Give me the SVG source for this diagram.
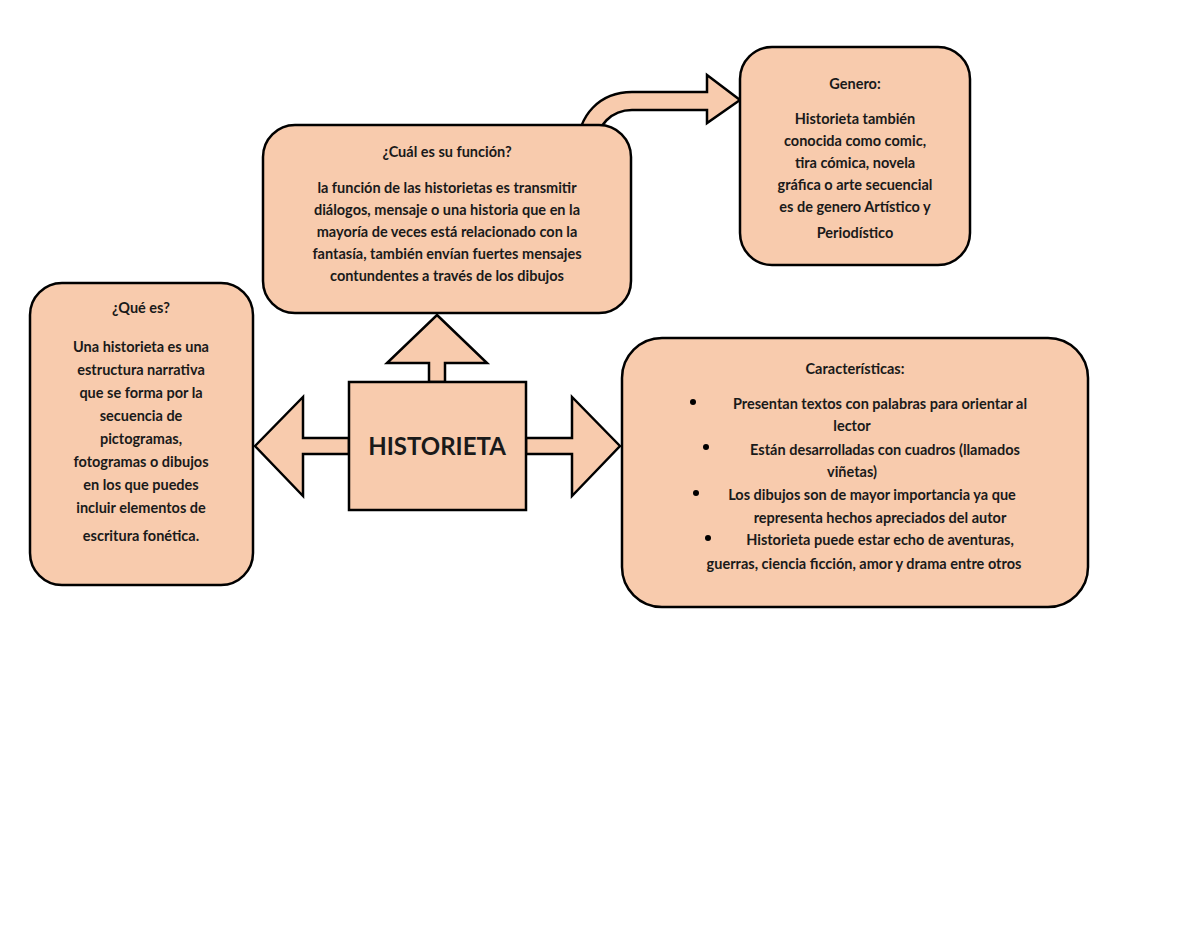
<svg xmlns="http://www.w3.org/2000/svg" width="1200" height="927" viewBox="0 0 1200 927">
<style>
.s{fill:#F8CBAD;stroke:#000;stroke-width:2.5;stroke-linejoin:miter}
text{font-family:Lato,"Open Sans","Liberation Sans",sans-serif;font-weight:bold;font-size:14.5px;fill:#1a1a1a;text-anchor:middle}
.big{font-size:24px}
</style>
<rect width="1200" height="927" fill="#fff"/>
<g id="connectors">
<path class="s" d="M437,315 L487,363 L445,363 L445,382 L429,382 L429,363 L387,363 Z"/>
<path class="s" d="M255,446 L303,397 L303,438 L349,438 L349,454 L303,454 L303,496 Z"/>
<path class="s" d="M620,446 L572,397 L572,438 L526,438 L526,454 L572,454 L572,496 Z"/>
<path class="s" d="M578,147 C578,115 600,92 632,92 L707,92 L707,75 L740,100 L707,123 L707,110 L632,110 C612,110 596,125 596,147 Z"/>
</g>
<g id="historieta">
<rect class="s" x="349" y="382" width="177" height="128"/>
<text class="big" x="437" y="455">HISTORIETA</text>
</g>
<g id="funcion">
<rect class="s" x="263" y="125" width="368" height="188" rx="32"/>
<text x="447" y="157">¿Cuál es su función?</text>
<text x="447" y="193">la función de las historietas es transmitir</text>
<text x="447" y="215">diálogos, mensaje o una historia que en la</text>
<text x="447" y="237">mayoría de veces está relacionado con la</text>
<text x="447" y="259">fantasía, también envían fuertes mensajes</text>
<text x="447" y="281">contundentes a través de los dibujos</text>
</g>
<g id="quees">
<rect class="s" x="30" y="283" width="223" height="302" rx="32"/>
<text x="141" y="313">¿Qué es?</text>
<text x="141" y="352">Una historieta es una</text>
<text x="141" y="375">estructura narrativa</text>
<text x="141" y="398">que se forma por la</text>
<text x="141" y="421">secuencia de</text>
<text x="141" y="444">pictogramas,</text>
<text x="141" y="467">fotogramas o dibujos</text>
<text x="141" y="490">en los que puedes</text>
<text x="141" y="513">incluir elementos de</text>
<text x="141" y="541">escritura fonética.</text>
</g>
<g id="genero">
<rect class="s" x="740" y="47" width="230" height="218" rx="32"/>
<text x="855" y="89">Genero:</text>
<text x="855" y="124">Historieta también</text>
<text x="855" y="146">conocida como comic,</text>
<text x="855" y="168">tira cómica, novela</text>
<text x="855" y="190">gráfica o arte secuencial</text>
<text x="855" y="212">es de genero Artístico y</text>
<text x="855" y="238">Periodístico</text>
</g>
<g id="caracteristicas">
<rect class="s" x="622" y="338" width="466" height="269" rx="40"/>
<text x="855" y="374">Características:</text>
<circle cx="693" cy="402" r="3"/>
<text x="880" y="409">Presentan textos con palabras para orientar al</text>
<text x="852" y="431">lector</text>
<circle cx="706" cy="447" r="3"/>
<text x="885" y="455">Están desarrolladas con cuadros (llamados</text>
<text x="852" y="477">viñetas)</text>
<circle cx="696" cy="493" r="3"/>
<text x="872" y="500">Los dibujos son de mayor importancia ya que</text>
<text x="880" y="523">representa hechos apreciados del autor</text>
<circle cx="708" cy="538" r="3"/>
<text x="880" y="545">Historieta puede estar echo de aventuras,</text>
<text x="864" y="569">guerras, ciencia ficción, amor y drama entre otros</text>
</g>
</svg>
